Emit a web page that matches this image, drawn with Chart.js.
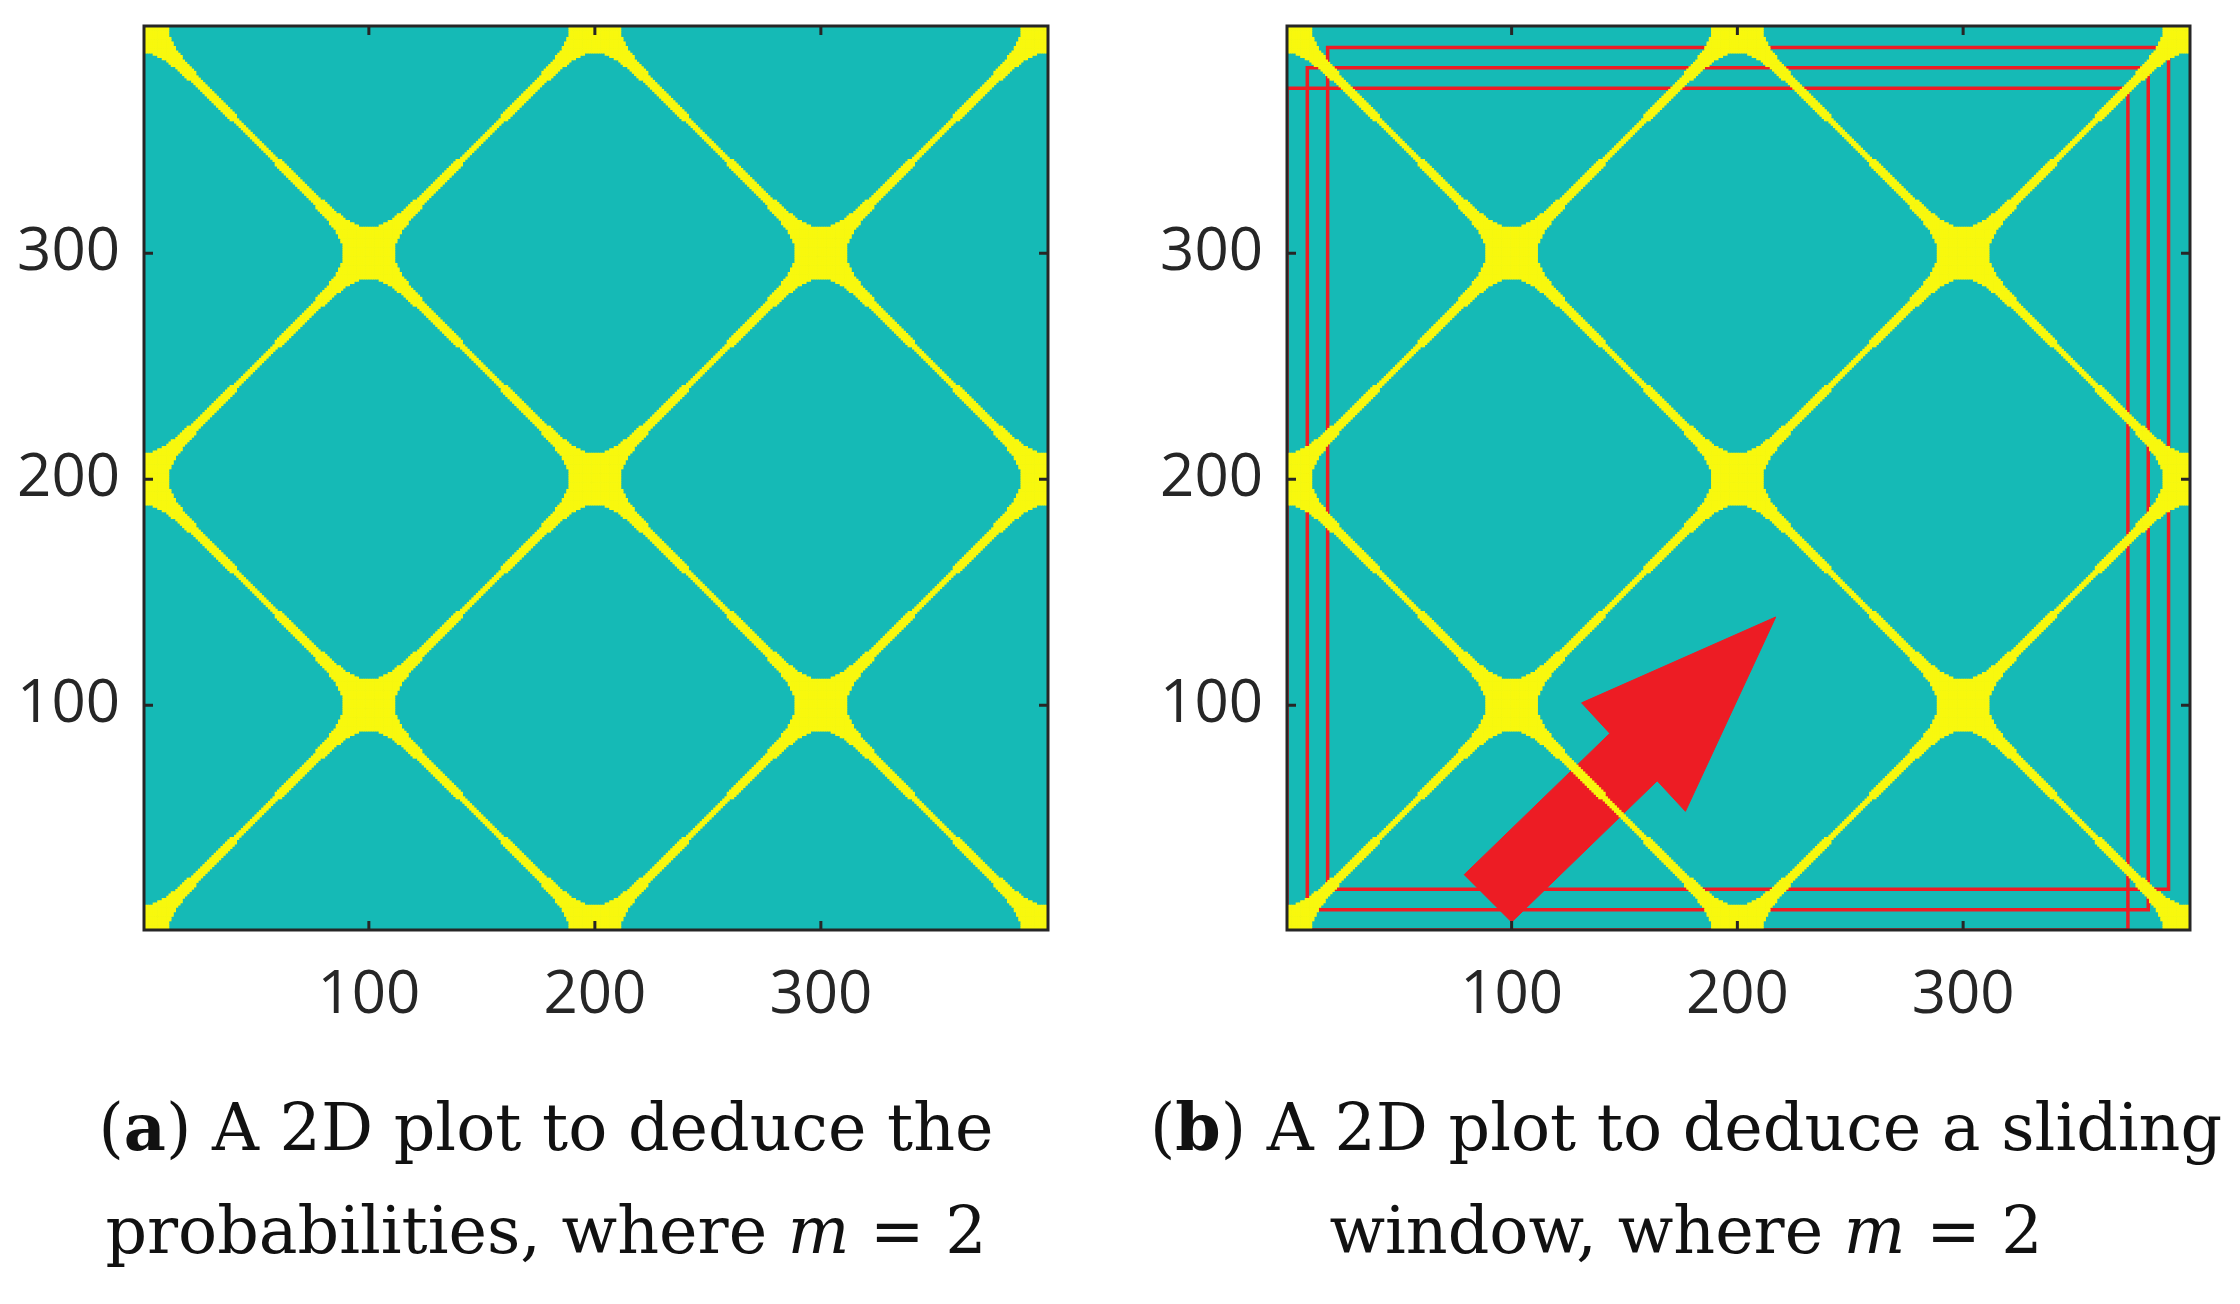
<!DOCTYPE html>
<html><head><meta charset="utf-8">
<script src="https://cdn.jsdelivr.net/npm/chart.js@4"></script>
<style>
body{margin:0;background:#fff;width:2240px;height:1304px;position:relative;overflow:hidden}
canvas{position:absolute}
.cap{position:absolute;font-family:"DejaVu Serif",serif;font-size:65px;color:#111;text-align:center;line-height:103px;width:1160px}
</style></head><body>
<div style="position:absolute;left:0;top:-26px;width:1090px;height:1060px"><canvas id="c1"></canvas></div>
<div style="position:absolute;left:1143px;top:-26px;width:1097px;height:1060px"><canvas id="c2"></canvas></div>
<div class="cap" style="left:-34px;top:1076px">(<b>a</b>) A 2D plot to deduce the<br>probabilities, where <i>m</i> = 2</div>
<div class="cap" style="left:1106px;top:1076px">(<b>b</b>) A 2D plot to deduce a sliding<br>window, where <i>m</i> = 2</div>
<script>
// data
const tickValues = [100, 200, 300];
const N = 400;            // samples
const period = 200;       // signal period
const threshold = 0.06;   // recurrence threshold
const windowStarts = [0, 9, 18];
const windowSize = 373;
const arrowPoly = [[79,25],[143.5,87.5],[131,101],[217,139],[177,53],[164.5,66.5],[100,4],[79,25]];

const signal = [];
for (let t = 1; t <= N; t++) signal.push(Math.cos(2*Math.PI*t/period));
const rec = [];
for (let i = 0; i < N; i++) for (let j = 0; j < N; j++)
  if (Math.abs(signal[i]-signal[j]) < threshold) rec.push({x:i+1, y:j+1});

const TEAL='#15BAB6', YEL='#F8F80E', RED='#ED1C24';
const bgPlugin={id:'bg',beforeDatasetsDraw(c){const a=c.chartArea,x=c.ctx;x.save();x.fillStyle=TEAL;x.fillRect(a.left,a.top,a.right-a.left,a.bottom-a.top);x.restore();},
 afterDraw(c){const a=c.chartArea,x=c.ctx;x.save();x.strokeStyle='#262626';x.lineWidth=3;x.strokeRect(a.left,a.top,a.right-a.left,a.bottom-a.top);
  x.lineWidth=3;for(const v of tickValues){const px=c.scales.x.getPixelForValue(v),py=c.scales.y.getPixelForValue(v);
  x.beginPath();x.moveTo(px,a.bottom);x.lineTo(px,a.bottom-9);x.moveTo(px,a.top);x.lineTo(px,a.top+9);
  x.moveTo(a.left,py);x.lineTo(a.left+9,py);x.moveTo(a.right,py);x.lineTo(a.right-9,py);x.stroke();}x.restore();}};

function make(id, extra){
  const ds=[{type:'scatter',data:rec,backgroundColor:YEL,borderWidth:0,pointStyle:'rect',pointRadius:2.1,pointHoverRadius:0},
    {type:'line',data:[{x:1,y:1},{x:400,y:400}],borderColor:'#1a1a5a',borderWidth:1.2,pointRadius:0}].concat(extra);
  new Chart(document.getElementById(id),{data:{datasets:ds},plugins:[bgPlugin],
   options:{responsive:true,maintainAspectRatio:false,animation:false,events:[],
    layout:{padding:{top:14,right:id==='c1'?42:50,bottom:0,left:0}},
    plugins:{legend:{display:false},tooltip:{enabled:false}},
    scales:{x:{type:'linear',min:0.5,max:400.5,afterFit:s=>{s.height=104},afterBuildTicks:s=>{s.ticks=tickValues.map(v=>({value:v}))},
      grid:{display:false},border:{display:false},ticks:{color:'#262626',font:{family:'Open Sans',size:60},padding:22}},
     y:{type:'linear',min:0.5,max:400.5,afterFit:s=>{s.width=144},afterBuildTicks:s=>{s.ticks=tickValues.map(v=>({value:v}))},
      grid:{display:false},border:{display:false},ticks:{color:'#262626',font:{family:'Open Sans',size:60},padding:16}}}}});
}
make('c1',[]);
const extra=windowStarts.map(s=>({type:'line',data:[{x:s+0.5,y:s+0.5},{x:s+windowSize,y:s+0.5},{x:s+windowSize,y:s+windowSize},{x:s+0.5,y:s+windowSize},{x:s+0.5,y:s+0.5}],
  borderColor:RED,borderWidth:3.5,pointRadius:0,fill:false}));
extra.push({type:'line',data:arrowPoly.map(p=>({x:p[0],y:p[1]})),borderColor:RED,backgroundColor:RED,borderWidth:1,pointRadius:0,fill:'shape',tension:0});
make('c2',extra);
</script></body></html>
